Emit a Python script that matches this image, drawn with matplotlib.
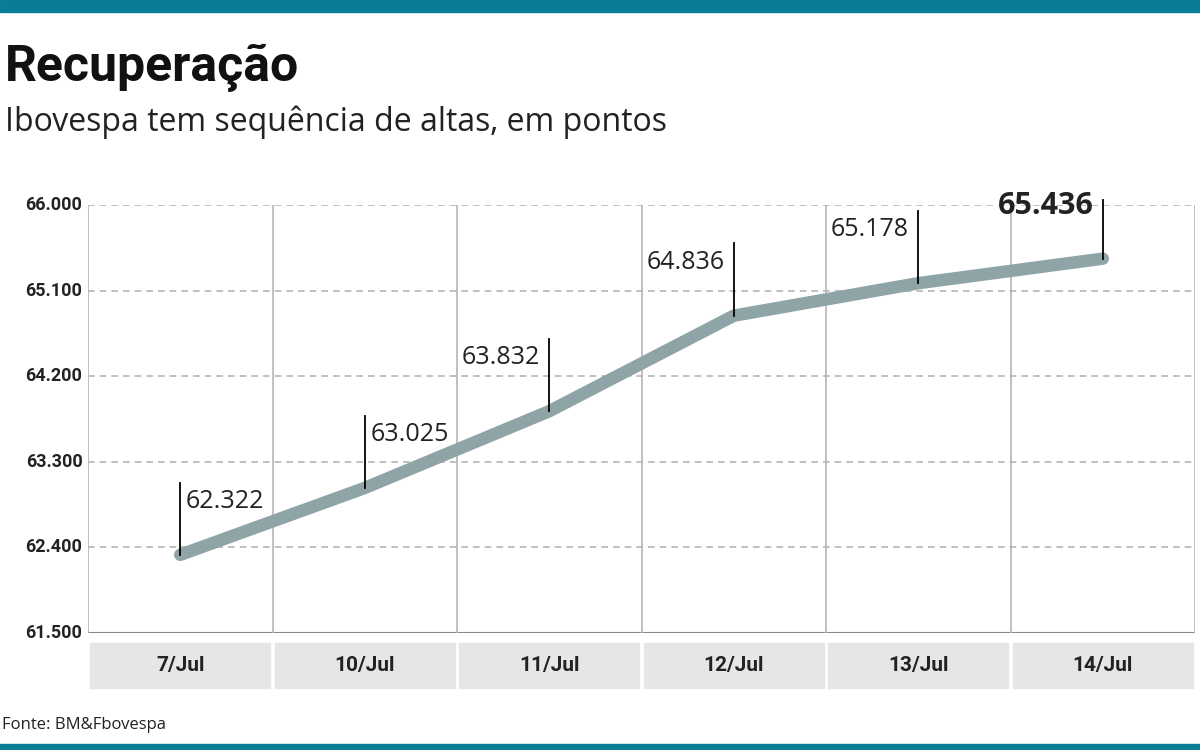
import matplotlib
matplotlib.use("Agg")
import matplotlib.pyplot as plt
from matplotlib.patches import Rectangle

# data
days = ['7/Jul', '10/Jul', '11/Jul', '12/Jul', '13/Jul', '14/Jul']
points = [62322, 63025, 63832, 64836, 65178, 65436]
labels = ['62.322', '63.025', '63.832', '64.836', '65.178', '65.436']
yticks = [61500, 62400, 63300, 64200, 65100, 66000]
ytick_labels = ['61.500', '62.400', '63.300', '64.200', '65.100', '66.000']

teal = '#0a7d96'
line_col = '#8fa4a7'
grid_col = '#b5b5b5'

fig = plt.figure(figsize=(12, 7.5), dpi=100)
fig.patch.set_facecolor('white')

# top / bottom bars
fig.add_artist(Rectangle((0, 1 - 12/750), 1, 12/750, transform=fig.transFigure, color=teal))
fig.add_artist(Rectangle((0, 0), 1, 6/750, transform=fig.transFigure, color=teal))

fig.text(0.004, 1 - 68/750, 'Recuperação', fontsize=36, fontweight='bold',
         family='Roboto', va='center', ha='left', color='#111111')
fig.text(0.004, 1 - 122/750, 'Ibovespa tem sequência de altas, em pontos', fontsize=23,
         family='Open Sans', va='center', ha='left', color='#222222')
fig.text(0.002, 1 - 725/750, 'Fonte: BM&Fbovespa', fontsize=12, family='Open Sans',
         va='center', ha='left', color='#222222')

ax = fig.add_axes([88/1200, 1 - 633/750, 1107/1200, 428/750])
ax.set_xlim(0, 6)
ax.set_ylim(61500, 66000)
for s in ax.spines.values():
    s.set_visible(False)
ax.set_xticks([])
ax.set_yticks([])

for y in yticks[1:]:
    ax.axhline(y, color=grid_col, lw=1.2, ls=(0, (4, 3)), zorder=1)
ax.axhline(61500, color='#888888', lw=1.5, zorder=1)
for x in range(7):
    ax.axvline(x, color=grid_col, lw=1.2, zorder=1)

for y, t in zip(yticks, ytick_labels):
    ax.text(-0.03, y, t, ha='right', va='center', fontsize=13, fontweight='bold',
            family='Roboto', color='#222222')

xs = [i + 0.5 for i in range(len(days))]
ax.plot(xs, points, color=line_col, lw=9, solid_capstyle='round', zorder=3)

lead = 760
for i, (x, p, lab) in enumerate(zip(xs, points, labels)):
    top = min(p + lead, 66050)
    ax.plot([x, x], [p, top], color='black', lw=1.3, zorder=4, clip_on=False)
    last = i == len(points) - 1
    right = i < 2
    ax.text(x + 0.03 if right else x - 0.05, top - (60 if last else 200), lab,
            ha='left' if right else 'right', va='center',
            fontsize=22 if last else 18, fontweight='bold' if last else 'normal',
            family='Open Sans', color='#222222', zorder=5)

# category band
for i, d in enumerate(days):
    ax.add_patch(Rectangle((i + 0.012, 61500 - 10.5 * 55), 0.976, 10.5 * 45,
                           color='#e6e6e6', clip_on=False, zorder=2))
    ax.text(i + 0.5, 61500 - 10.5 * 32.5, d, ha='center', va='center', fontsize=15,
            fontweight='bold', family='Roboto', color='#222222')

fig.savefig('out.png', dpi=100)
